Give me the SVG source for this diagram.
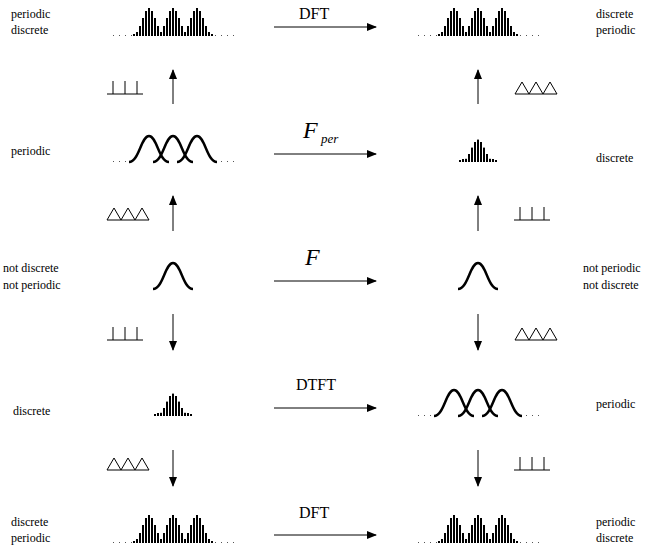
<svg xmlns="http://www.w3.org/2000/svg" xmlns:xlink="http://www.w3.org/1999/xlink" width="663" height="555" viewBox="0 0 663 555">
<style>
text{font-family:"Liberation Serif","Times New Roman","DejaVu Serif",serif;font-size:12px;fill:#000}
.op{font-size:16px}
.sf{font-size:24px;font-style:italic}
.ln{stroke:#000;stroke-width:1;fill:none}
.g{stroke:#000;stroke-width:2.5;fill:none}
.dot{fill:#555}
</style>
<defs>
<marker id="ah" markerWidth="10" markerHeight="8" refX="9" refY="4" orient="auto" markerUnits="userSpaceOnUse"><path d="M0,0 L10,4 L0,8 Z"/></marker>
<g id="bump">
<rect x="-13" y="-4" width="2" height="4"/><rect x="-10" y="-10" width="2" height="10"/><rect x="-7" y="-18" width="2" height="18"/><rect x="-4" y="-25" width="2" height="25"/><rect x="-1" y="-28" width="2" height="28"/><rect x="2" y="-25" width="2" height="25"/><rect x="5" y="-18" width="2" height="18"/><rect x="8" y="-10" width="2" height="10"/><rect x="11" y="-4" width="2" height="4"/>
</g>
<g id="sper">
<g class="dot"><rect x="-60" y="-1" width="1" height="1"/><rect x="-54" y="-1" width="1" height="1"/><rect x="-48" y="-1" width="1" height="1"/><rect x="-42" y="-1" width="1" height="1"/><rect x="42" y="-1" width="1" height="1"/><rect x="48" y="-1" width="1" height="1"/><rect x="54" y="-1" width="1" height="1"/><rect x="60" y="-1" width="1" height="1"/></g>
<use xlink:href="#bump" x="-24"/><use xlink:href="#bump"/><use xlink:href="#bump" x="24"/>
<rect x="-40" y="-2" width="2" height="2"/><rect x="38" y="-2" width="2" height="2"/>
</g>
<g id="sone">
<rect x="-19" y="-2" width="2" height="2"/><rect x="-16" y="-3" width="2" height="3"/><rect x="14" y="-3" width="2" height="3"/><rect x="17" y="-2" width="2" height="2"/>
<use xlink:href="#bump" transform="scale(1,0.8)"/>
</g>
<path id="gau" d="M-20,0 C-10,0 -8,-26 0,-26 C8,-26 10,0 20,0"/>
<g id="cper">
<g class="dot"><rect x="-60" y="-1" width="1" height="1"/><rect x="-54" y="-1" width="1" height="1"/><rect x="-48" y="-1" width="1" height="1"/><rect x="48" y="-1" width="1" height="1"/><rect x="54" y="-1" width="1" height="1"/><rect x="60" y="-1" width="1" height="1"/></g>
<use xlink:href="#gau" x="-24" class="g"/><use xlink:href="#gau" class="g"/><use xlink:href="#gau" x="24" class="g"/>
</g>
<g id="comb" class="ln"><path d="M0,0 H36 M6,0 V-13 M18,0 V-13 M30,0 V-13"/></g>
<g id="tri" class="ln"><path d="M0,0 H42 M0,0 L7,-12 L14,0 L21,-12 L28,0 L35,-12 L42,0"/></g>
</defs>

<g id="connectors" class="ln">
<path d="M274,27 H376" marker-end="url(#ah)"/>
<path d="M274,154 H376" marker-end="url(#ah)"/>
<path d="M274,281 H376" marker-end="url(#ah)"/>
<path d="M274,408 H376" marker-end="url(#ah)"/>
<path d="M274,535 H376" marker-end="url(#ah)"/>
<path d="M173,104 V70" marker-end="url(#ah)"/>
<path d="M173,231 V196" marker-end="url(#ah)"/>
<path d="M173,314 V350" marker-end="url(#ah)"/>
<path d="M173,450 V486" marker-end="url(#ah)"/>
<path d="M478,104 V70" marker-end="url(#ah)"/>
<path d="M478,231 V196" marker-end="url(#ah)"/>
<path d="M478,314 V350" marker-end="url(#ah)"/>
<path d="M478,450 V486" marker-end="url(#ah)"/>
</g>

<g id="labels">
<text x="299" y="19" class="op">DFT</text>
<text x="303" y="138" class="sf">F</text><text x="321" y="143" font-style="italic" style="font-size:13px">per</text>
<text x="305" y="265" class="sf">F</text>
<text x="296" y="390" class="op">DTFT</text>
<text x="299" y="518" class="op">DFT</text>
</g>

<g id="icons">
<use xlink:href="#comb" x="107" y="94"/>
<use xlink:href="#tri" x="107" y="220"/>
<use xlink:href="#comb" x="107" y="340"/>
<use xlink:href="#tri" x="107" y="470"/>
<use xlink:href="#tri" x="515" y="94"/>
<use xlink:href="#comb" x="514" y="220"/>
<use xlink:href="#tri" x="515" y="340"/>
<use xlink:href="#comb" x="514" y="470"/>
</g>

<g id="n1"><use xlink:href="#sper" x="173" y="36"/><text x="11" y="18">periodic</text><text x="11" y="34">discrete</text></g>
<g id="n2"><use xlink:href="#sper" x="478" y="36"/><text x="596" y="18">discrete</text><text x="596" y="34">periodic</text></g>
<g id="n3"><use xlink:href="#cper" x="173" y="162"/><text x="11" y="155">periodic</text></g>
<g id="n4"><use xlink:href="#sone" x="478" y="162"/><text x="596" y="162">discrete</text></g>
<g id="n5"><use xlink:href="#gau" x="173" y="289" class="g"/><text x="3" y="272">not discrete</text><text x="3" y="289">not periodic</text></g>
<g id="n6"><use xlink:href="#gau" x="478" y="289" class="g"/><text x="583" y="272">not periodic</text><text x="583" y="289">not discrete</text></g>
<g id="n7"><use xlink:href="#sone" x="173" y="416"/><text x="13" y="415">discrete</text></g>
<g id="n8"><use xlink:href="#cper" x="478" y="416"/><text x="596" y="408">periodic</text></g>
<g id="n9"><use xlink:href="#sper" x="173" y="543"/><text x="11" y="526">discrete</text><text x="11" y="542">periodic</text></g>
<g id="n10"><use xlink:href="#sper" x="478" y="543"/><text x="596" y="526">periodic</text><text x="596" y="542">discrete</text></g>
</svg>
